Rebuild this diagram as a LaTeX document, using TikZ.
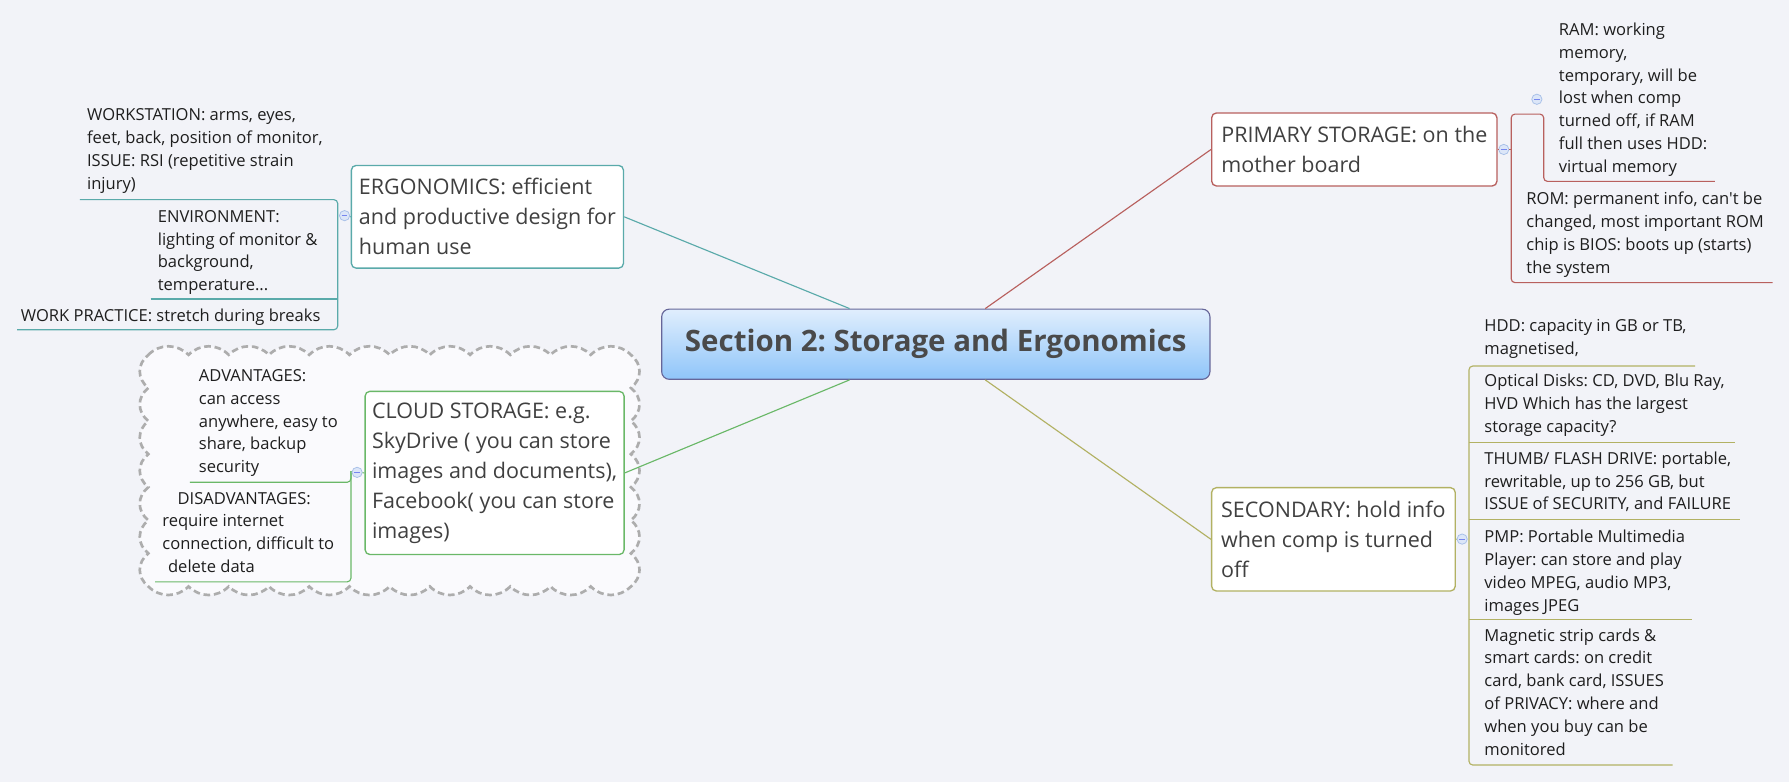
\documentclass[tikz,border=0pt]{standalone}
\usepackage{fontspec}
\setmainfont{Open Sans}
\usetikzlibrary{calc}
\definecolor{bgcol}{HTML}{F2F3F8}
\definecolor{ergocol}{HTML}{5AAAAA}
\definecolor{primcol}{HTML}{B8605E}
\definecolor{cloudcol}{HTML}{6AB868}
\definecolor{seccol}{HTML}{B2B163}
\definecolor{titlecol}{HTML}{4A4A4A}
\definecolor{txtcol}{HTML}{1E1E1E}
\definecolor{foldfill}{HTML}{DCE6F8}
\definecolor{folddraw}{HTML}{A8C0E8}
\definecolor{cloudfill}{HTML}{FAFAFD}
\definecolor{clouddash}{HTML}{ADADAD}
\definecolor{sectop}{HTML}{E0EEFD}
\definecolor{secbot}{HTML}{8FC5F9}
\newcommand{\unitpx}{0.6pt}
\tikzset{
  topic/.style={draw=#1, fill=white, rounded corners=2.5pt, line width=0.7pt, align=left,
    inner sep=0pt, text=txtcol!85, font=\fontsize{11.3}{15.8}\selectfont},
  sub/.style={anchor=north west, inner sep=0pt, align=left, text=txtcol,
    font=\fontsize{8.7}{12}\selectfont},
  branch/.style={draw=#1, line width=0.6pt, rounded corners=2pt},
  fold/.style={circle, draw=folddraw, fill=foldfill, minimum size=5.4pt, inner sep=0pt, line width=0.4pt,
    path picture={\draw[folddraw!70!blue, line width=0.5pt]
      ([xshift=-1.5pt]path picture bounding box.center) -- ([xshift=1.5pt]path picture bounding box.center);}},
}
\begin{document}
\frenchspacing
\begin{tikzpicture}[x=\unitpx, y=-\unitpx]
\fill[bgcol] (0,0) rectangle (1568,685);
\useasboundingbox (0,0) rectangle (1568,685);

% cloud around the cloud storage branch
\filldraw[fill=cloudfill, draw=clouddash, line width=1.4pt, dash pattern=on 3.5pt off 2pt]
  (130,311) foreach \i in {1,...,12}{ .. controls +(10,-10) and +(-10,-10) .. ++(35.25,0) }
  foreach \i in {1,...,7}{ .. controls +(10,8) and +(10,-8) .. ++(0,29) }
  foreach \i in {1,...,12}{ .. controls +(-10,10) and +(10,10) .. ++(-35.25,0) }
  foreach \i in {1,...,7}{ .. controls +(-10,-8) and +(-10,8) .. ++(0,-29) } -- cycle;

% main topics
\node[draw=gray!80!blue, line width=0.6pt, top color=sectop, bottom color=secbot, rounded corners=4pt,
  minimum width=480.5*\unitpx, minimum height=61.5*\unitpx, text=titlecol,
  font=\fontsize{15.5}{18}\selectfont\bfseries] (sec) at (820.2,301.7) {Section 2: Storage and Ergonomics};
\node[topic=ergocol, minimum width=238.5*\unitpx, minimum height=90*\unitpx] (ergo) at (427.2,190)
  {ERGONOMICS: efficient\\and productive design for\\human use};
\node[topic=cloudcol, minimum width=227*\unitpx, minimum height=143*\unitpx] (cloud) at (433.5,414.5)
  {CLOUD STORAGE: e.g.\\SkyDrive ( you can store\\images and documents),\\Facebook( you can store\\ images)};
\node[topic=primcol, minimum width=250*\unitpx, minimum height=64*\unitpx] (prim) at (1187,131)
  {PRIMARY STORAGE: on the\\ mother board};
\node[topic=seccol, minimum width=213.5*\unitpx, minimum height=90.6*\unitpx] (second) at (1168.7,472.7)
  {SECONDARY: hold info\\when comp is turned\\ off};

\draw[branch=ergocol] ($(sec.north west)!0.343!(sec.north east)$) -- (ergo.east);
\draw[branch=primcol] ($(sec.north west)!0.59!(sec.north east)$) -- (prim.west);
\draw[branch=cloudcol] ($(sec.south west)!0.343!(sec.south east)$) -- (cloud.east);
\draw[branch=seccol] ($(sec.south west)!0.59!(sec.south east)$) -- (second.west);

% ergonomics
\draw[branch=ergocol] (70,175) -- (296,175) -- (296,289) -- (15,289);
\draw[branch=ergocol] (132,262) -- (296,262);
\node[fold] (ergofold) at (302,189) {};
\draw[branch=ergocol] (ergofold) -- (ergo.west);
\node[sub] (workst) at (76,95) {WORKSTATION: arms, eyes,\\feet, back, position of monitor,\\ISSUE: RSI (repetitive strain\\injury)};
\node[sub] (environ) at (138,184) {ENVIRONMENT:\\lighting of monitor \&\\background,\\temperature...};
\node[sub] (workpr) at (18,270) {WORK PRACTICE: stretch during breaks};

% cloud storage
\draw[branch=cloudcol] (166.5,422.7) -- (307.6,422.7) -- (307.6,413);
\draw[branch=cloudcol] (307.6,413) -- (307.6,510) -- (136,510);
\node[fold] (cloudfold) at (313,414) {};
\draw[branch=cloudcol] (cloudfold) -- (cloud.west);
\node[sub] (adv) at (174,323.5) {ADVANTAGES:\\can access\\anywhere, easy to\\share, backup\\security};
\node[sub] (disadv) at (142,431) {\hspace*{8pt}DISADVANTAGES:\\require internet\\connection, difficult to\\\hspace*{3pt}delete data};

% primary storage
\node[fold] (primfold) at (1318,131) {};
\draw[branch=primcol] (prim.east) -- (primfold);
\draw[branch=primcol] (primfold) -- (1324.5,131);
\draw[branch=primcol] (1503,159) -- (1353,159) -- (1353,100) -- (1324.5,100) -- (1324.5,247.7) -- (1553.7,247.7);
\node[fold] (ramfold) at (1347,87) {};
\node[sub] (ram) at (1366,19.7) {RAM: working\\memory,\\temporary, will be\\lost when comp\\turned off, if RAM\\full then uses HDD:\\virtual memory};
\node[sub] (rom) at (1337.5,168) {ROM: permanent info, can\textquotesingle t be\\changed, most important ROM\\chip is BIOS: boots up (starts)\\the system};

% secondary storage
\node[fold] (secfold) at (1281.5,472.5) {};
\draw[branch=seccol] (second.east) -- (secfold);
\draw[branch=seccol] (1485.6,320.8) -- (1287.5,320.8) -- (1287.5,670.5) -- (1466,670.5);
\draw[branch=seccol] (1287.5,388) -- (1520.7,388);
\draw[branch=seccol] (1287.5,455) -- (1525,455);
\draw[branch=seccol] (1287.5,542.8) -- (1483,542.8);
\node[sub] (hdd) at (1300.7,280) {HDD: capacity in GB or TB,\\magnetised,};
\node[sub] (optic) at (1300.7,327.5) {Optical Disks: CD, DVD, Blu Ray,\\HVD Which has the largest\\storage capacity?};
\node[sub] (thumb) at (1300.7,395.5) {THUMB/ FLASH DRIVE: portable,\\rewritable, up to 256 GB, but\\ISSUE of SECURITY, and FAILURE};
\node[sub] (pmp) at (1300.7,464.5) {PMP: Portable Multimedia\\Player: can store and play\\video MPEG, audio MP3,\\images JPEG};
\node[sub] (magnet) at (1300.7,550.5) {Magnetic strip cards \&\\smart cards: on credit\\card, bank card, ISSUES\\of PRIVACY: where and\\when you buy can be\\monitored};
\end{tikzpicture}
\end{document}
